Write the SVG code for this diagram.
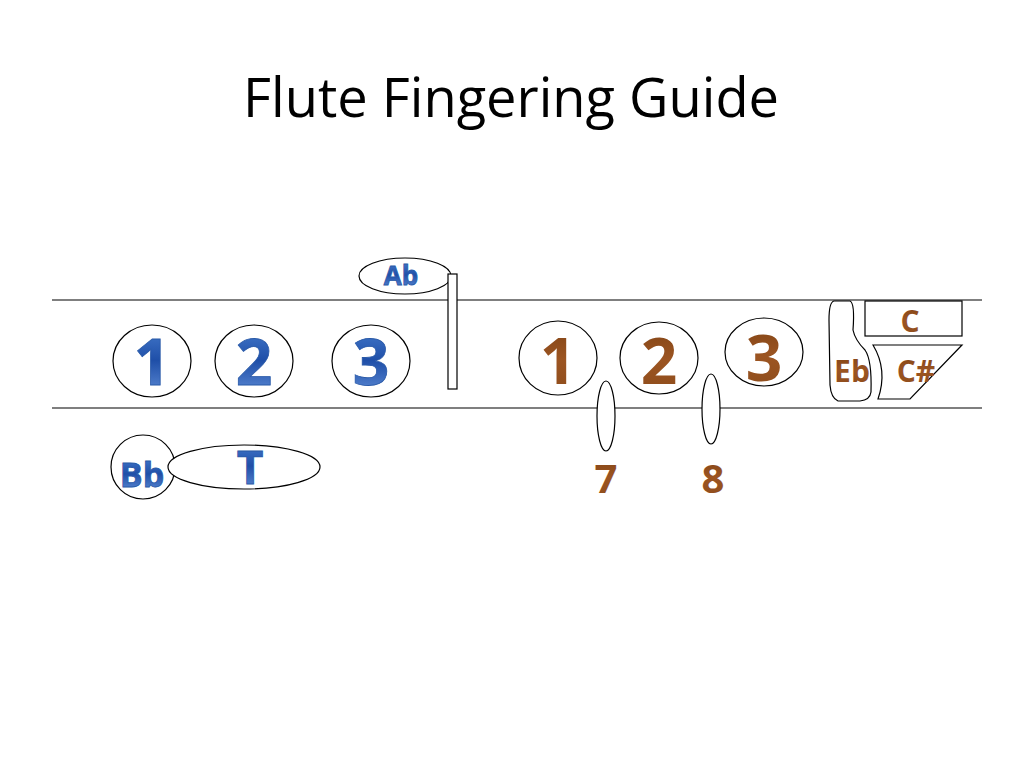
<svg xmlns="http://www.w3.org/2000/svg" width="1024" height="768" viewBox="0 0 1024 768">
<defs>
<linearGradient id="bl" x1="0" y1="0" x2="0" y2="1"><stop offset="0" stop-color="#4f86d6"/><stop offset="0.5" stop-color="#1f4fa8"/><stop offset="1" stop-color="#6d9ae0"/></linearGradient>
<linearGradient id="br" x1="0" y1="0" x2="0" y2="1"><stop offset="0" stop-color="#7a3f12"/><stop offset="0.5" stop-color="#9c5522"/><stop offset="1" stop-color="#8a4a1a"/></linearGradient>
</defs>
<style>
.k{fill:#fff;stroke:#000;stroke-width:1.2}
.l{stroke:#000;stroke-width:1.2}
.b{font-family:"Open Sans","Liberation Sans",sans-serif;font-weight:bold;fill:url(#bl);stroke:#2a5aa8;stroke-width:0.8;text-anchor:middle}
.r{font-family:"Open Sans","Liberation Sans",sans-serif;font-weight:bold;fill:url(#br);text-anchor:middle}
</style>
<rect width="1024" height="768" fill="#fff"/>
<text x="511" y="117" font-family="'Open Sans','Liberation Sans',sans-serif" font-size="54" text-anchor="middle" textLength="536" lengthAdjust="spacingAndGlyphs">Flute Fingering Guide</text>
<g id="body"><line class="l" x1="52" y1="300" x2="982" y2="300"/><line class="l" x1="52" y1="408" x2="982" y2="408"/></g>
<g id="L1"><ellipse class="k" cx="152" cy="361" rx="39" ry="36"/><text class="b" x="152" y="385" font-size="64">1</text></g>
<g id="L2"><ellipse class="k" cx="254" cy="361" rx="39" ry="36"/><text class="b" x="254" y="385" font-size="64">2</text></g>
<g id="L3"><ellipse class="k" cx="371" cy="361" rx="39" ry="36"/><text class="b" x="371" y="385" font-size="64">3</text></g>
<g id="Ab"><ellipse class="k" cx="405" cy="276" rx="46" ry="18"/><text class="b" x="401" y="285" font-size="26">Ab</text></g>
<g id="AbLever"><rect class="k" x="448" y="274" width="9" height="115"/></g>
<g id="Bb"><circle class="k" cx="143" cy="467" r="32"/><text class="b" x="142" y="487" font-size="34">Bb</text></g>
<g id="T"><ellipse class="k" cx="244" cy="467" rx="76" ry="22"/><text class="b" x="250" y="484" font-size="46">T</text></g>
<g id="R1"><ellipse class="k" cx="558" cy="358" rx="39" ry="37"/><text class="r" x="558" y="384" font-size="64">1</text></g>
<g id="R2"><ellipse class="k" cx="659" cy="358" rx="39" ry="36"/><text class="r" x="659" y="384" font-size="64">2</text></g>
<g id="R3"><ellipse class="k" cx="764" cy="352" rx="39" ry="34"/><text class="r" x="764" y="381" font-size="64">3</text></g>
<g id="K7"><ellipse class="k" cx="606" cy="416" rx="9" ry="35"/><text class="r" x="606" y="493" font-size="40">7</text></g>
<g id="K8"><ellipse class="k" cx="711" cy="409" rx="9" ry="35"/><text class="r" x="713" y="493" font-size="40">8</text></g>
<g id="C"><rect class="k" x="865" y="301" width="97" height="35"/><text class="r" x="910" y="332" font-size="30">C</text></g>
<g id="Csharp"><path class="k" d="M873,345 L962,345 L910,399 L878,399 Q888,370 873,345 Z"/><text class="r" x="916" y="382" font-size="30">C#</text></g>
<g id="Eb"><path class="k" d="M834,301 L850,301 Q855,303 853,330 Q855,340 865,350 Q872,360 871,392 Q870,400 860,401 L838,401 Q831,398 830,385 L829,320 Q829,302 834,301 Z"/><text class="r" x="852" y="382" font-size="30">Eb</text></g>
</svg>
